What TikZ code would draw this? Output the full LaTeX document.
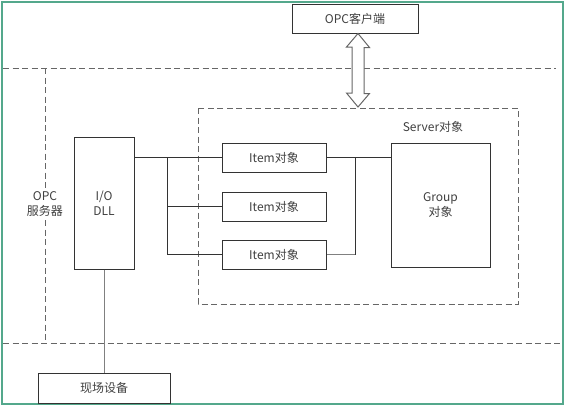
\documentclass[tikz,border=0pt]{standalone}
\usepackage{fontspec}
\setmainfont{Noto Sans CJK SC}
\usepackage{tikz}
\usetikzlibrary{positioning}
\definecolor{mframe}{rgb}{0.33, 0.66, 0.55}
\definecolor{mline}{rgb}{0.2, 0.2, 0.2}
\definecolor{mdash}{rgb}{0.4, 0.4, 0.4}
\definecolor{mtext}{rgb}{0.25, 0.25, 0.25}
\tikzset{box/.style = {draw = mline, line width = 1pt, fill = white, text = mtext, inner sep = 0, align = center, font = \fontsize{12}{15}\selectfont}}
\tikzset{zone/.style = {mdash, line width = 1pt, dash pattern = on 6pt off 3.5pt}}
\tikzset{link/.style = {mline, line width = 1pt}}
\tikzset{lbl/.style = {text = mtext, inner sep = 1pt, align = center, font = \fontsize{12}{15}\selectfont}}

\begin{document}
\begin{tikzpicture}[x=1pt, y=-1pt]
    \useasboundingbox (0, 0) rectangle (566, 407);
    \draw [mframe, line width = 1.5pt] (2, 2) rectangle (563, 404);

    % layers
    \draw [zone] (3, 68) -- (556, 68);
    \draw [zone] (3, 343) -- (563, 343);
    \draw [zone] (45, 68) -- (45, 343);
    \node [lbl, fill = white] (srvlbl) at (45, 204) {OPC\\服务器};

    \draw [zone] (198, 108) rectangle (518, 304);
    \node [lbl] (objlbl) at (433, 127) {Server对象};
    \coordinate (srvtop) at (358, 107);

    % boxes
    \node [box, minimum width = 126, minimum height = 29] (client) at (355, 18.5) {OPC客户端};
    \node [box, minimum width = 60, minimum height = 132] (dll) at (104, 203) {I/O\\DLL};
    \foreach \i/\y in {1/157.5, 2/206.5, 3/254.5}{
      \node [box, minimum width = 104, minimum height = 29] (item\i) at (274, \y) {Item对象};
    }
    \node [box, minimum width = 99, minimum height = 124] (group) at (440.5, 205) {Group\\对象};
    \node [box, minimum width = 132, minimum height = 30] (field) at (104, 388) {现场设备};

    % links
    \coordinate (busl) at (167, 200);
    \coordinate (busr) at (355, 200);
    \draw [link] (dll.east |- item1.west) -- (item1.west);
    \draw [link] (busl |- item1.west) -- (busl |- item3.west) -- (item3.west);
    \draw [link] (busl |- item2.west) -- (item2.west);
    \draw [link] (item1.east) -- (group.west |- item1.east);
    \draw [link] (busr |- item1.east) -- (busr |- item3.east);
    \draw [link, gray] (busr |- item3.east) -- (item3.east);
    \draw [link, gray] (dll.south) -- (field.north);

    \draw [mdash, line width = 1pt, fill = white] (client.south -| srvtop) -- ++(11.5, 14) -- ++(-5.5, 0) -- ++(0, 46) -- ++(5.5, 0) -- (srvtop) -- ++(-11.5, -14) -- ++(5.5, 0) -- ++(0, -46) -- ++(-5.5, 0) -- cycle;
  \end{tikzpicture}
\end{document}
